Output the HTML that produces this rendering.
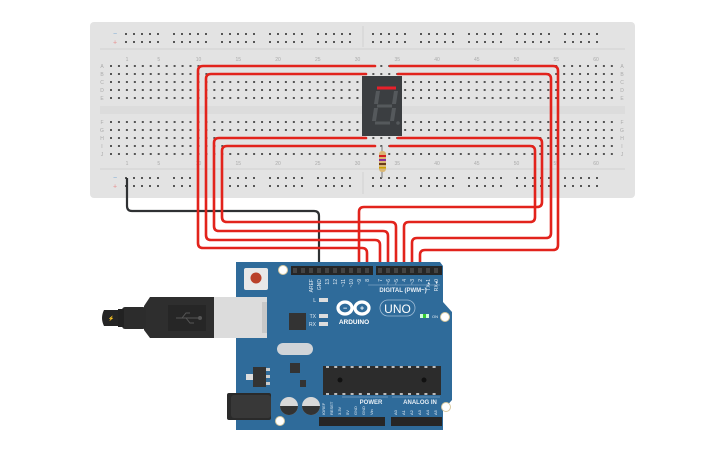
<!DOCTYPE html>
<html><head><meta charset="utf-8"><style>
html,body{margin:0;padding:0;background:#fff;width:725px;height:453px;overflow:hidden}
svg{display:block}
text{font-family:"Liberation Sans",sans-serif}
</style></head><body>
<svg id="s" width="725" height="453" viewBox="0 0 725 453" xmlns="http://www.w3.org/2000/svg">
<!-- breadboard -->
<rect x="90" y="22" width="545" height="176" rx="4" fill="#e3e3e3"/>
<line x1="100" y1="49" x2="625" y2="49" stroke="#d2d2d2" stroke-width="1"/>
<line x1="100" y1="169" x2="625" y2="169" stroke="#d2d2d2" stroke-width="1"/>
<line x1="363" y1="26" x2="363" y2="47" stroke="#d2d2d2"/>
<line x1="363" y1="172" x2="363" y2="194" stroke="#d2d2d2"/>
<rect x="100" y="106" width="525" height="8" fill="#dcdcdc"/>
<g id="holes" fill="#555"></g>
<g font-size="5" fill="#aaa" id="labels"></g>
<text x="115" y="36" font-size="7" fill="#7aa9d6" text-anchor="middle">−</text>
<text x="115" y="44.5" font-size="7" fill="#e89090" text-anchor="middle">+</text>
<text x="115" y="180" font-size="7" fill="#7aa9d6" text-anchor="middle">−</text>
<text x="115" y="188.5" font-size="7" fill="#e89090" text-anchor="middle">+</text>

<!-- 7 segment -->
<rect x="362" y="76" width="40" height="60" fill="#3b3e41"/>
<g fill="#55595c">
<polygon points="376,91 380,91 378,104 374,104"/>
<polygon points="394,91 398,91 396,104 392,104"/>
<polygon points="374,108 378,108 376,121 372,121"/>
<polygon points="392,108 396,108 394,121 390,121"/>
<rect x="377" y="104.5" width="15" height="3"/>
<rect x="375" y="121.5" width="15" height="3"/>
<circle cx="398" cy="123" r="1.8"/>
</g>
<rect x="377" y="86.5" width="19" height="3" fill="#e8202a"/>

<!-- resistor -->
<line x1="382" y1="146" x2="382" y2="178" stroke="#888" stroke-width="1.2"/>
<rect x="379" y="151" width="7" height="21" rx="3" fill="#d9b673"/>
<rect x="379" y="155" width="7" height="2" fill="#d42020"/>
<rect x="379" y="159" width="7" height="2" fill="#8a2a9a"/>
<rect x="379" y="163" width="7" height="2" fill="#6a3a1a"/>
<rect x="379" y="167" width="7" height="1.5" fill="#c9a000"/>

<!-- black gnd wire -->
<path d="M127,178 V206 Q127,211 132,211 H314 Q319,211 319,216 V270" fill="none" stroke="#2f3133" stroke-width="2.2"/>

<!-- red wires -->
<g fill="none" stroke="#e2231c" stroke-width="2.6" stroke-linecap="round">
<path d="M375,66 H203 Q198,66 198,71 V243 Q198,248 203,248 H362 Q367,248 367,253 V270"/>
<path d="M366,74 H211 Q206,74 206,79 V235 Q206,240 211,240 H375 Q380,240 380,245 V270"/>
<path d="M366,138 H219 Q214,138 214,143 V226 Q214,231 219,231 H383 Q388,231 388,236 V270"/>
<path d="M375,146 H227 Q222,146 222,151 V217 Q222,222 227,222 H391 Q396,222 396,227 V270"/>
<path d="M390,66 H553 Q558,66 558,71 V245 Q558,250 553,250 H425 Q420,250 420,255 V270"/>
<path d="M398,74 H546 Q551,74 551,79 V233 Q551,238 546,238 H417 Q412,238 412,243 V270"/>
<path d="M398,138 H537 Q542,138 542,143 V202 Q542,207 537,207 H364 Q359,207 359,212 V270"/>
<path d="M390,146 H530 Q535,146 535,151 V217 Q535,222 530,222 H409 Q404,222 404,227 V270"/>
</g>

<!-- arduino board -->
<polygon points="236,262 440,262 443,266 443,302 452,312 452,400 443,410 443,430 236,430" fill="#2f6b9a"/>
<rect x="291" y="266" width="82" height="9" fill="#262626"/>
<rect x="376" y="266" width="66" height="9" fill="#262626"/>
<g id="pins" fill="#444"></g>
<g font-size="5" fill="#e6eef5" id="plabels"></g>
<text x="403" y="292" font-size="6" font-weight="bold" fill="#e6eef5" text-anchor="middle">DIGITAL (PWM~)</text>
<line x1="368" y1="285" x2="440" y2="285" stroke="#9fbcd6" stroke-width="0.6"/>
<circle cx="283" cy="270" r="4.5" fill="#fff" stroke="#d8c9a0"/>
<circle cx="445" cy="317" r="4.5" fill="#fff" stroke="#d8c9a0"/>
<circle cx="446" cy="407" r="4.5" fill="#fff" stroke="#d8c9a0"/>
<circle cx="280" cy="421" r="4.5" fill="#fff" stroke="#d8c9a0"/>
<rect x="244" y="268" width="24" height="22" rx="2" fill="#e8e8e8"/>
<circle cx="256" cy="278" r="5.5" fill="#b9412a"/>
<!-- USB -->
<rect x="214" y="297" width="53" height="41" fill="#dcdcdc"/>
<rect x="262" y="302" width="5" height="31" fill="#c8c8c8"/>
<path d="M144,306 L150,297 H214 V338 H150 L144,330 Z" fill="#2e2e2e"/>
<rect x="168" y="305" width="38" height="26" fill="#262626"/>
<rect x="122" y="307" width="24" height="22" rx="3" fill="#2c2c2c"/>
<rect x="118" y="309" width="6" height="18" fill="#222"/>
<path d="M118,310 H104 Q100,318 104,326 H118 Z" fill="#252525"/>
<text x="108" y="320" font-size="5" fill="#e0d000">⚡</text>
<g stroke="#555" stroke-width="1" fill="none"><path d="M176,318 H200 M182,318 L186,313 H190 M186,318 L190,323 H194"/></g>
<circle cx="200" cy="318" r="2" fill="#555"/>
<rect x="227" y="393" width="44" height="27" rx="2" fill="#2a2a2a"/>
<rect x="231" y="395" width="40" height="23" rx="3" fill="#383838"/>
<rect x="253" y="367" width="13" height="20" fill="#333"/>
<rect x="246" y="374" width="7" height="6" fill="#ddd"/>
<rect x="266" y="368" width="4" height="3" fill="#ccc"/><rect x="266" y="375" width="4" height="3" fill="#ccc"/><rect x="266" y="382" width="4" height="3" fill="#ccc"/>
<rect x="277" y="343" width="36" height="12" rx="6" fill="#d0d4d8"/>
<rect x="289" y="313" width="17" height="17" fill="#333"/>
<rect x="290" y="363" width="10" height="10" fill="#333"/>
<rect x="300" y="380" width="6" height="7" fill="#333"/>
<g font-size="5" fill="#e6eef5" text-anchor="end">
<text x="316" y="302">L</text><text x="316" y="318">TX</text><text x="316" y="326">RX</text></g>
<rect x="319" y="298" width="9" height="4" fill="#ddd"/>
<rect x="319" y="314" width="9" height="4" fill="#ddd"/>
<rect x="319" y="322" width="9" height="4" fill="#ddd"/>
<rect x="420" y="314" width="9" height="4" fill="#cfd"/><rect x="423" y="314" width="3" height="4" fill="#3c3"/>
<text x="432" y="318" font-size="4" fill="#e6eef5">ON</text>
<g fill="none" stroke="#fff" stroke-width="3.2">
<ellipse cx="345" cy="308" rx="7" ry="6"/><ellipse cx="362" cy="308" rx="7" ry="6"/></g>
<text x="345" y="310.5" font-size="7" font-weight="bold" fill="#fff" text-anchor="middle">−</text>
<text x="362" y="310.5" font-size="7" font-weight="bold" fill="#fff" text-anchor="middle">+</text>
<text x="354" y="324" font-size="6.5" font-weight="bold" fill="#fff" text-anchor="middle">ARDUINO</text>
<rect x="380" y="300" width="35" height="16" rx="8" fill="none" stroke="#9fbcd6" stroke-width="0.8"/>
<text x="397.5" y="313" font-size="12" fill="#fff" text-anchor="middle">UNO</text>
<circle cx="289" cy="406" r="9" fill="#d8d8d8"/><path d="M280,406 A9,9 0 0 0 298,406 Z" fill="#333"/>
<circle cx="311" cy="406" r="9" fill="#d8d8d8"/><path d="M302,406 A9,9 0 0 0 320,406 Z" fill="#333"/>
<rect x="323" y="366" width="118" height="29" fill="#2c2c2c"/>
<circle cx="340" cy="380" r="2.5" fill="#111"/><circle cx="424" cy="380" r="2.5" fill="#111"/>
<g id="cpins" fill="#bbb"></g>
<text x="371" y="404" font-size="6" font-weight="bold" fill="#e6eef5" text-anchor="middle">POWER</text>
<text x="420" y="404" font-size="6" font-weight="bold" fill="#e6eef5" text-anchor="middle">ANALOG IN</text>
<line x1="342" y1="397" x2="388" y2="397" stroke="#9fbcd6" stroke-width="0.6"/>
<line x1="392" y1="397" x2="440" y2="397" stroke="#9fbcd6" stroke-width="0.6"/>
<rect x="319" y="417" width="66" height="9" fill="#262626"/>
<rect x="391" y="417" width="51" height="9" fill="#262626"/>
<g font-size="4" fill="#e6eef5" id="blabels"></g>
</svg>
<script>
var NS="http://www.w3.org/2000/svg";
function el(p,t,a,txt){var e=document.createElementNS(NS,t);for(var k in a)e.setAttribute(k,a[k]);if(txt!=null)e.textContent=txt;document.getElementById(p).appendChild(e);return e;}
var P=7.95;
var rows=[66,74,82,90,98,122,130,138,146,154];
for(var r=0;r<rows.length;r++)for(var c=0;c<64;c++)el("holes","rect",{x:111+c*P-1,y:rows[r]-1,width:2,height:2});
var gs=[126,174,222,270,318,373,421,469,517,565];
[34,42,178,186].forEach(function(y){gs.forEach(function(g){for(var i=0;i<5;i++)el("holes","rect",{x:g+i*8-1,y:y-1,width:2,height:2});});});
[1,5,10,15,20,25,30,35,40,45,50,55,60].forEach(function(n){var x=127+(n-1)*7.95;el("labels","text",{x:x,y:61,"text-anchor":"middle"},n);el("labels","text",{x:x,y:165,"text-anchor":"middle"},n);});
"ABCDEFGHIJ".split("").forEach(function(L,i){el("labels","text",{x:102,y:rows[i]+2,"text-anchor":"middle"},L);el("labels","text",{x:622,y:rows[i]+2,"text-anchor":"middle"},L);});
for(var i=0;i<10;i++)el("pins","rect",{x:293+i*8,y:268,width:4,height:5});
for(var i=0;i<8;i++)el("pins","rect",{x:378+i*8,y:268,width:4,height:5});
for(var i=0;i<8;i++)el("pins","rect",{x:321+i*8,y:419,width:4,height:5});
for(var i=0;i<6;i++)el("pins","rect",{x:393+i*8,y:419,width:4,height:5});
var lt=[["AREF",311],["GND",319],["13",327],["12",335],["~11",343],["~10",351],["~9",359],["8",367],["7",380],["~6",388],["~5",396],["4",404],["~3",412],["2",420],["TX▸1",428],["RX◂0",436]];
lt.forEach(function(a){el("plabels","text",{x:0,y:0,transform:"translate("+(a[1]+2)+",279) rotate(-90)","text-anchor":"end"},a[0]);});
var bl=[["IOREF",323],["RESET",331],["3.3V",339],["5V",347],["GND",355],["GND",363],["Vin",371],["A0",395],["A1",403],["A2",411],["A3",419],["A4",427],["A5",435]];
bl.forEach(function(a){el("blabels","text",{x:0,y:0,transform:"translate("+(a[1]+2)+",415) rotate(-90)"},a[0]);});
for(var i=0;i<14;i++){el("cpins","rect",{x:326+i*8.2,y:366,width:3,height:2});el("cpins","rect",{x:326+i*8.2,y:393,width:3,height:2});}
</script>
</body></html>
